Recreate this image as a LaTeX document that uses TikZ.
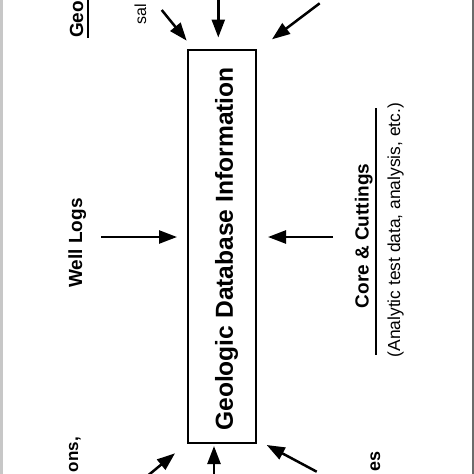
\documentclass[tikz,border=0pt]{standalone}
\usepackage{fontspec}
\setmainfont{Liberation Sans}
\usetikzlibrary{arrows.meta}
\begin{document}
\begin{tikzpicture}[x=1pt,y=-1pt,
  arr/.style={line width=2.5pt,-{Triangle[length=18pt,width=13pt]}},
  ttl/.style={font=\fontsize{19}{22}\selectfont\bfseries, rotate=90, inner sep=0pt},
  subt/.style={font=\fontsize{17.4}{20}\selectfont, rotate=90, inner sep=0pt},
  uline/.style={line width=2pt},
  frame/.style={draw, line width=2pt, inner sep=0pt}]
\useasboundingbox (0,0) rectangle (474,474);
\fill[white] (0,0) rectangle (474,474);
\begin{scope}
\clip (0,0) rectangle (474,474);
% main box
\node[frame, minimum width=68pt, minimum height=393pt] (box) at (222,246) {};
\node[rotate=90, anchor=base west, inner sep=0pt, font=\fontsize{24.6}{28}\selectfont\bfseries] (title) at (232.8,431) {Geologic Database Information};
% texts
\node[ttl, anchor=base west] (well) at (82,288) {Well Logs};
\node[ttl, anchor=base west] (core) at (368.5,308.5) {Core \& Cuttings};
\node[subt, anchor=base west] (coresub) at (400,357.5) {(Analytic test data, analysis, etc.)};
\node[ttl, anchor=base west] (geo) at (83,38) {Geo};
\node[subt, font=\fontsize{16}{19}\selectfont, anchor=base west] (sal) at (146,24.5) {sal};
\node[ttl, font=\fontsize{17}{20}\selectfont\bfseries, anchor=base east] (ons) at (78,437) {ons,};
\node[ttl, font=\fontsize{18}{20}\selectfont\bfseries, anchor=base east] (es) at (380,451.5) {es};
% underlines
\coordinate (cu1) at (376,108); \coordinate (cu2) at (376,355);
\draw[uline] (cu1) -- (cu2);
\coordinate (gu1) at (88,-2); \coordinate (gu2) at (88,38);
\draw[uline] (gu1) -- (gu2);
% arrow coordinates
\coordinate (wlT) at (101,237); \coordinate (wlH) at (177,237);
\coordinate (ccT) at (333,237); \coordinate (ccH) at (268,237);
\coordinate (tcT) at (218.3,-5); \coordinate (tcH) at (218.3,37.5);
\coordinate (tlT) at (161.7,10); \coordinate (tlH) at (186.7,40.7);
\coordinate (trT) at (319.7,3.3); \coordinate (trH) at (272,39.3);
\coordinate (bcT) at (214,480); \coordinate (bcH) at (214,446);
\coordinate (blT) at (140,482); \coordinate (blH) at (175,453.3);
\coordinate (brT) at (316.7,471.7); \coordinate (brH) at (266.7,445);
\draw[arr] (wlT) -- (wlH);
\draw[arr] (ccT) -- (ccH);
\draw[arr] (tcT) -- (tcH);
\draw[arr] (tlT) -- (tlH);
\draw[arr] (trT) -- (trH);
\draw[arr] (bcT) -- (bcH);
\draw[arr] (blT) -- (blH);
\draw[arr] (brT) -- (brH);
\end{scope}
% borders
\fill[black!22] (0,0) rectangle (2.5,474);
\fill[black!58] (472,0) rectangle (474,474);
\end{tikzpicture}
\end{document}
